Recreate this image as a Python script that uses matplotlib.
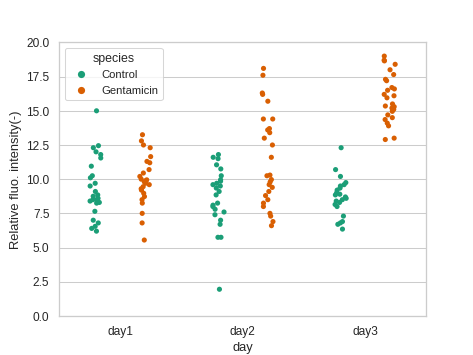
import matplotlib
matplotlib.use("Agg")
import matplotlib.pyplot as plt
import numpy as np
import pandas as pd
import seaborn as sns

# values
control_day1 = [15.0, 12.45, 12.3, 12.0, 11.8, 11.55, 10.95, 10.25, 10.1, 9.7, 9.5, 9.1,
                8.85, 8.75, 8.6, 8.5, 8.4, 8.25, 8.5, 7.65, 7.0, 6.8, 6.55, 6.4, 6.2, 8.3]
genta_day1 = [13.25, 12.8, 12.5, 12.3, 11.65, 11.3, 11.2, 10.7, 10.45, 10.2, 9.95, 9.7,
              9.45, 9.2, 8.97, 8.73, 8.5, 8.25, 9.8, 9.6, 9.9, 7.5, 6.8, 5.55, 10.0, 9.3]
control_day2 = [11.8, 11.6, 11.5, 11.05, 10.75, 10.25, 9.96, 9.85, 9.7, 9.5, 9.35, 9.1,
                8.85, 8.25, 8.0, 7.8, 7.6, 7.4, 7.0, 6.7, 5.75, 5.75, 1.95, 9.6, 8.1]
genta_day2 = [18.1, 17.6, 16.3, 16.2, 15.7, 14.4, 14.4, 13.7, 13.6, 13.4, 13.0, 12.5,
              11.6, 10.3, 10.25, 9.97, 9.8, 9.6, 9.4, 9.1, 8.8, 8.5, 8.25, 8.0, 7.5,
              7.3, 6.9, 6.6]
control_day3 = [12.3, 10.7, 10.2, 9.75, 9.6, 9.5, 9.35, 9.2, 9.0, 8.85, 8.7, 8.5, 8.4,
                8.3, 8.15, 8.0, 7.3, 6.9, 6.8, 6.7, 6.35, 8.6, 8.9]
genta_day3 = [19.0, 18.7, 18.65, 18.4, 18.0, 17.65, 17.3, 17.2, 16.7, 16.6, 16.5, 16.2,
              16.1, 15.95, 15.5, 15.35, 15.2, 15.1, 14.96, 14.7, 14.5, 14.36, 14.1,
              13.9, 13.0, 12.9, 15.3]

days = ["day1", "day2", "day3"]
species = ["Control", "Gentamicin"]

groups = [("day1", "Control", control_day1), ("day1", "Gentamicin", genta_day1),
          ("day2", "Control", control_day2), ("day2", "Gentamicin", genta_day2),
          ("day3", "Control", control_day3), ("day3", "Gentamicin", genta_day3)]

rows = []
for day, sp, vals in groups:
    for v in vals:
        rows.append({"day": day, "species": sp, "value": v})
df = pd.DataFrame(rows)

sns.set_theme(style="whitegrid")
plt.rcParams["font.family"] = ["Liberation Sans", "DejaVu Sans"]
np.random.seed(3)

fig, ax = plt.subplots(figsize=(6.4, 4.8), dpi=74)
sns.stripplot(data=df, x="day", y="value", hue="species", order=days, hue_order=species,
              dodge=True, palette="Dark2", size=5, ax=ax)
ax.set_ylim(0, 20)
ax.set_ylabel("Relative fluo. intensity(-)", fontsize=12.5)
ax.set_xlabel("day", fontsize=12.5)
ax.tick_params(labelsize=11.5)
ax.legend(title="species", loc="upper left", markerscale=1.4, title_fontsize=12)

fig.savefig("out.png", dpi=74)
